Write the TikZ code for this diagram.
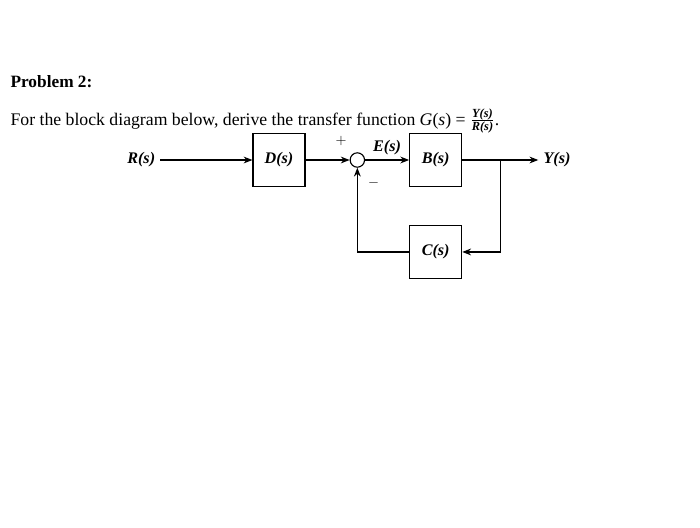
\documentclass[tikz,border=0pt]{standalone}
\usepackage{amsmath}
\usepackage{fontspec}
\setmainfont{Liberation Serif}
\usetikzlibrary{positioning,arrows.meta}

\begin{document}
\begin{tikzpicture}[x=0.025cm,y=-0.025cm,>={Stealth[length=2.2mm,width=1.7mm]},line width=0.8pt,node distance=1.1cm,
    block/.style={draw,minimum width=1.3cm,minimum height=1.32cm,font=\fontsize{11.5}{13}\selectfont\bfseries\itshape},
    sum/.style={draw,circle,inner sep=0pt,minimum size=0.36cm},
    sig/.style={font=\fontsize{11.5}{13}\selectfont\bfseries\itshape}]
    \useasboundingbox (0,0) rectangle (700,528);
    \node[anchor=base west,inner sep=0pt,font=\fontsize{12.3}{14}\selectfont\bfseries] (title) at (10,87) {Problem 2:};
    \node[anchor=base west,inner sep=0pt,font=\fontsize{12.6}{14}\selectfont] (task) at (10,125)
        {For the block diagram below, derive the transfer function \textit{G}(\textit{s}) = $\frac{\textbf{\textit{Y(s)}}}{\textbf{\textit{R(s)}}}$.};

    \node[block] (D) at (279,160) {D(s)};
    \node[sum] (sum) [right=of D] {};
    \node[block] (B) [right=of sum] {B(s)};
    \node[block] (C) [below=0.95cm of B] {C(s)};
    \node[sig] (R) [left=2.3cm of D] {R(s)};
    \node[sig] (Y) [right=1.9cm of B] {Y(s)};
    \coordinate[right=0.95cm of B] (branch);
    \node (plus) [above left=0.1cm and 0.0cm of sum] {$+$};
    \node (minus) [below right=0.2cm and 0.0cm of sum] {$-$};

    \draw[->] (R) -- (D);
    \draw[->] (D) -- (sum);
    \draw[->] (sum) -- node[sig,above] {E(s)} (B);
    \draw[->] (B) -- (Y);
    \draw[->] (branch) |- (C);
    \draw[->] (C) -| (sum);
\end{tikzpicture}
\end{document}
